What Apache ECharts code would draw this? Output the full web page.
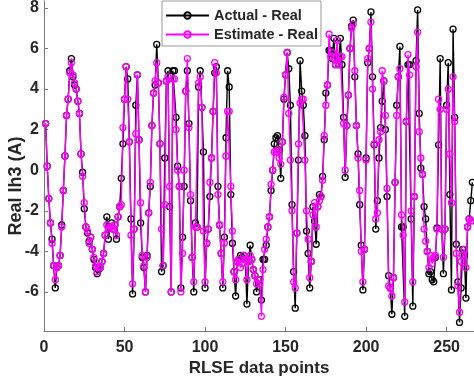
<!DOCTYPE html>
<html><head><meta charset="utf-8">
<script src="https://cdn.jsdelivr.net/npm/echarts@6/dist/echarts.min.js"></script>
<style>html,body{margin:0;padding:0;background:#fff}#c{width:474px;height:382px}</style>
</head><body><div id="c"></div>
<script>
const seriesNames = ['Actual - Real', 'Estimate - Real'];
const xTicks = [0, 50, 100, 150, 200, 250];
const yTicks = [-6, -4, -2, 0, 2, 4, 6, 8];
const xTitle = 'RLSE data points';
const yTitle = 'Real Ih3 (A)';

const estimate = [
 2.3, 0.2, -1.4, -2.6, -3.6, -4.7, -5.4, -4.8, -4.7, -4.2,
 -2.8, -1.0, 0.7, 2.7, 3.5, 4.8, 5.3, 4.7, 4.3, 4.0,
 3.4, 2.8, 0.8, -0.3, -1.6, -2.8, -3.0, -3.6, -3.3, -3.9,
 -4.3, -4.7, -5.0, -4.8, -4.8, -4.5, -4.1, -3.2, -2.7, -2.9,
 -2.8, -2.8, -2.9, -2.7, -3.2, -2.3, -1.8, -1.7, 2.1, 3.5,
 5.1, 3.5, 1.4, -3.2, -5.6, -2.9, 1.8, 4.7, 1.5, -1.6,
 -4.2, -4.7, -6.0, -4.3, -2.1, -0.6, 2.2, 3.8, 4.4, 5.3,
 4.3, 1.3, -2.9, -4.7, -1.7, 4.4, 4.6, -0.8, -6.0, 4.5,
 4.5, 2.0, 0.0, -0.8, -6.0, -4.1, 0.0, 3.9, 5.5, 2.1,
 -1.2, -4.3, -5.5, -2.8, -2.8, 4.3, 4.6, 3.1, -3.0, -5.5,
 -3.6, -2.9, -0.6, 0.6, 2.9, 5.3, 4.8, -1.2, -2.7, -4.1,
 -5.5, -3.6, 0.7, 2.9, 2.9, -0.8, -3.0, -5.0, -5.4, -4.5,
 -4.4, -4.8, -4.6, -4.2, -4.4, -5.4, -4.5, -4.2, -4.4, -4.9,
 -5.2, -5.6, -5.4, -5.6, -7.2, -4.9, -3.9, -3.4, -2.8, -2.3,
 -0.7, 0.0, 0.9, 0.9, 1.0, 0.6, 0.3, 1.4, 3.6, 4.7,
 5.8, 2.8, 0.5, -2.0, -5.5, -5.8, -3.1, 1.3, 3.3, 3.5,
 3.5, 0.5, -2.0, -3.4, -5.3, -4.5, -2.2, -1.6, -2.8, -1.8,
 -1.5, -1.3, -0.5, 1.7, 3.2, 4.2, 6.7, 5.6, 5.8, 5.5,
 5.2, 6.4, 5.2, 5.6, 5.6, 2.3, 0.0, 2.2, 3.7, 6.0,
 7.0, 7.2, 4.9, 2.2, 0.6, -1.0, -4.0, -5.5, -3.9, 0.5,
 5.5, 6.0, 7.3, 4.0, 1.3, -2.4, -2.1, 1.5, 1.9, 4.9,
 4.4, 2.7, -0.9, -5.7, -5.8, -6.2, -5.3, -0.6, 2.7, 4.6,
 5.0, -2.2, -3.2, -6.5, 2.4, 5.7, 4.7, -2.0, -5.5, -1.3,
 5.1, 6.8, 1.9, 0.6, -0.2, -2.9, -3.5, -4.0, -4.8, -4.2,
 -4.6, -4.3, -4.2, -2.9, 3.5, 3.0, -2.9, -4.3, -2.9, 3.0,
 4.0, 0.8, -1.6, 4.6, 2.4, -4.1, -5.7, -7.0, -4.5, -4.2,
 -3.9, -4.8, -2.8, -2.4, -2.5, -2.5
];
const actual = [
 2.3, 0.2, -1.4, -2.6, -3.4, -4.7, -5.8, -4.8, -4.7, -4.2,
 -2.7, -1.0, 0.7, 2.7, 3.5, 4.9, 5.5, 4.6, 4.2, 4.0,
 3.4, 2.8, 0.8, -0.1, -1.9, -2.8, -3.1, -3.5, -3.3, -3.9,
 -4.4, -4.8, -5.1, -4.9, -4.8, -4.5, -4.1, -3.2, -2.3, -3.4,
 -2.8, -2.6, -2.9, -2.7, -3.4, -2.3, -1.8, -0.4, 1.3, 3.5,
 5.1, 4.5, 1.4, -2.4, -6.1, -2.9, 3.2, 4.7, 1.5, -2.6,
 -4.3, -4.8, -6.0, -4.2, -2.1, -0.8, 2.2, 3.8, 4.2, 6.2,
 4.3, 1.3, -5.0, -4.7, 0.6, 4.4, 4.9, -1.8, -6.0, 4.9,
 4.9, 2.6, 0.2, -0.8, -5.8, -3.3, -0.8, 3.9, 4.9, 2.3,
 -1.5, -4.3, -6.0, -2.6, -2.8, 4.1, 4.9, 3.1, 0.9, -5.8,
 -3.6, -2.9, -1.3, 0.6, 2.9, 4.8, 5.1, -0.8, -2.7, -4.1,
 -5.8, -3.3, 1.6, 4.9, 4.1, -1.2, -3.6, -5.0, -6.2, -4.5,
 -4.4, -4.2, -4.3, -4.2, -4.4, -6.6, -4.5, -3.7, -4.4, -4.9,
 -5.2, -6.0, -5.4, -5.4, -6.4, -4.4, -4.4, -3.7, -2.8, -2.3,
 -1.0, 0.0, 1.3, 1.6, 1.7, 1.0, -0.4, 1.4, 3.5, 4.7,
 5.8, 5.0, 3.2, -1.7, -5.0, -6.8, -3.1, 0.5, 5.4, 3.9,
 3.2, 1.7, -3.0, -4.1, -5.8, -4.5, -1.8, -2.5, -3.65, -1.8,
 -1.2, -1.3, -0.3, 1.5, 3.8, 4.2, 5.9, 5.9, 5.5, 6.5,
 5.2, 5.6, 5.2, 6.5, 5.2, 2.6, -0.35, 2.2, 3.7, 6.0,
 7.1, 7.4, 4.6, 2.2, 0.8, -1.7, -3.7, -5.9, -3.9, 0.6,
 5.3, 6.0, 7.8, 4.6, 1.25, -2.9, -1.5, 0.6, 2.1, 3.4,
 4.4, 2.0, -1.3, -5.2, -5.8, -7.1, -5.3, -0.6, 3.2, 4.6,
 6.1, -2.8, -2.8, -7.2, 2.4, 5.2, 5.2, -2.4, -6.7, -1.3,
 5.4, 7.9, 2.8, 0.1, -0.2, -1.8, -2.4, -4.0, -5.1, -5.0,
 -5.4, -5.5, -4.3, -2.85, 1.25, 5.5, -2.9, -5.1, -2.9, 3.2,
 5.3, -1.2, -5.9, 6.95, 2.6, -3.65, -5.5, -7.5, -5.8, -3.9,
 -4.2, -6.3, -2.8, -2.4, -1.5, -0.6
];

const FONT = '"Liberation Sans", Arial, sans-serif';
const TXT = '#262626';
const AX = '#7a7a7a';
const toPairs = arr => arr.map((v, i) => [i + 1, v]);

function mkSeries(name, data, col) {
  return {
    name, type: 'line', data: toPairs(data),
    symbol: 'circle', symbolSize: 6, showSymbol: true, showAllSymbol: true,
    color: col,
    lineStyle: { color: col, width: 1.4 },
    itemStyle: { color: 'rgba(255,255,255,0)', borderColor: col, borderWidth: 1.3 },
    emphasis: { disabled: true },
    z: name === seriesNames[1] ? 3 : 2
  };
}

const chart = echarts.init(document.getElementById('c'), null, { renderer: 'canvas' });
chart.setOption({
  animation: false,
  backgroundColor: '#fff',
  grid: { left: 44, right: 0, top: 0, bottom: 45, containLabel: false },
  xAxis: {
    type: 'value', min: 0, max: 267,
    name: xTitle, nameLocation: 'middle', nameGap: 28,
    nameTextStyle: { fontFamily: FONT, fontWeight: 'bold', fontSize: 17, color: TXT },
    axisLine: { show: true, onZero: false, lineStyle: { color: AX, width: 1 } },
    axisTick: { show: true, inside: true, length: 4, customValues: xTicks, lineStyle: { color: AX } },
    axisLabel: { customValues: xTicks, fontFamily: FONT, fontWeight: 'bold', fontSize: 16, color: TXT, margin: 8 },
    splitLine: { show: false }
  },
  yAxis: {
    type: 'value', min: -7.93, max: 8.35,
    axisLine: { show: true, onZero: false, lineStyle: { color: AX, width: 1 } },
    axisTick: { show: true, inside: true, length: 4, customValues: yTicks, lineStyle: { color: AX } },
    axisLabel: { customValues: yTicks, fontFamily: FONT, fontWeight: 'bold', fontSize: 16, color: TXT, margin: 5 },
    splitLine: { show: false }
  },
  legend: {
    orient: 'vertical', left: 162, top: 1,
    data: seriesNames,
    backgroundColor: '#fff', borderColor: '#9a9a9a', borderWidth: 1,
    padding: [7, 3, 4, 3], itemGap: 4, itemWidth: 43, itemHeight: 8,
    textStyle: { fontFamily: FONT, fontWeight: 'bold', fontSize: 14.5, color: TXT, lineHeight: 14.5 }
  },
  graphic: [{
    type: 'text', x: 16, y: 186, rotation: Math.PI / 2,
    style: { text: yTitle, fontFamily: FONT, fontWeight: 'bold', fontSize: 18, fill: TXT, align: 'center', verticalAlign: 'middle' }
  }],
  series: [mkSeries(seriesNames[0], actual, '#000000'), mkSeries(seriesNames[1], estimate, '#ff00ff')]
});
</script></body></html>
